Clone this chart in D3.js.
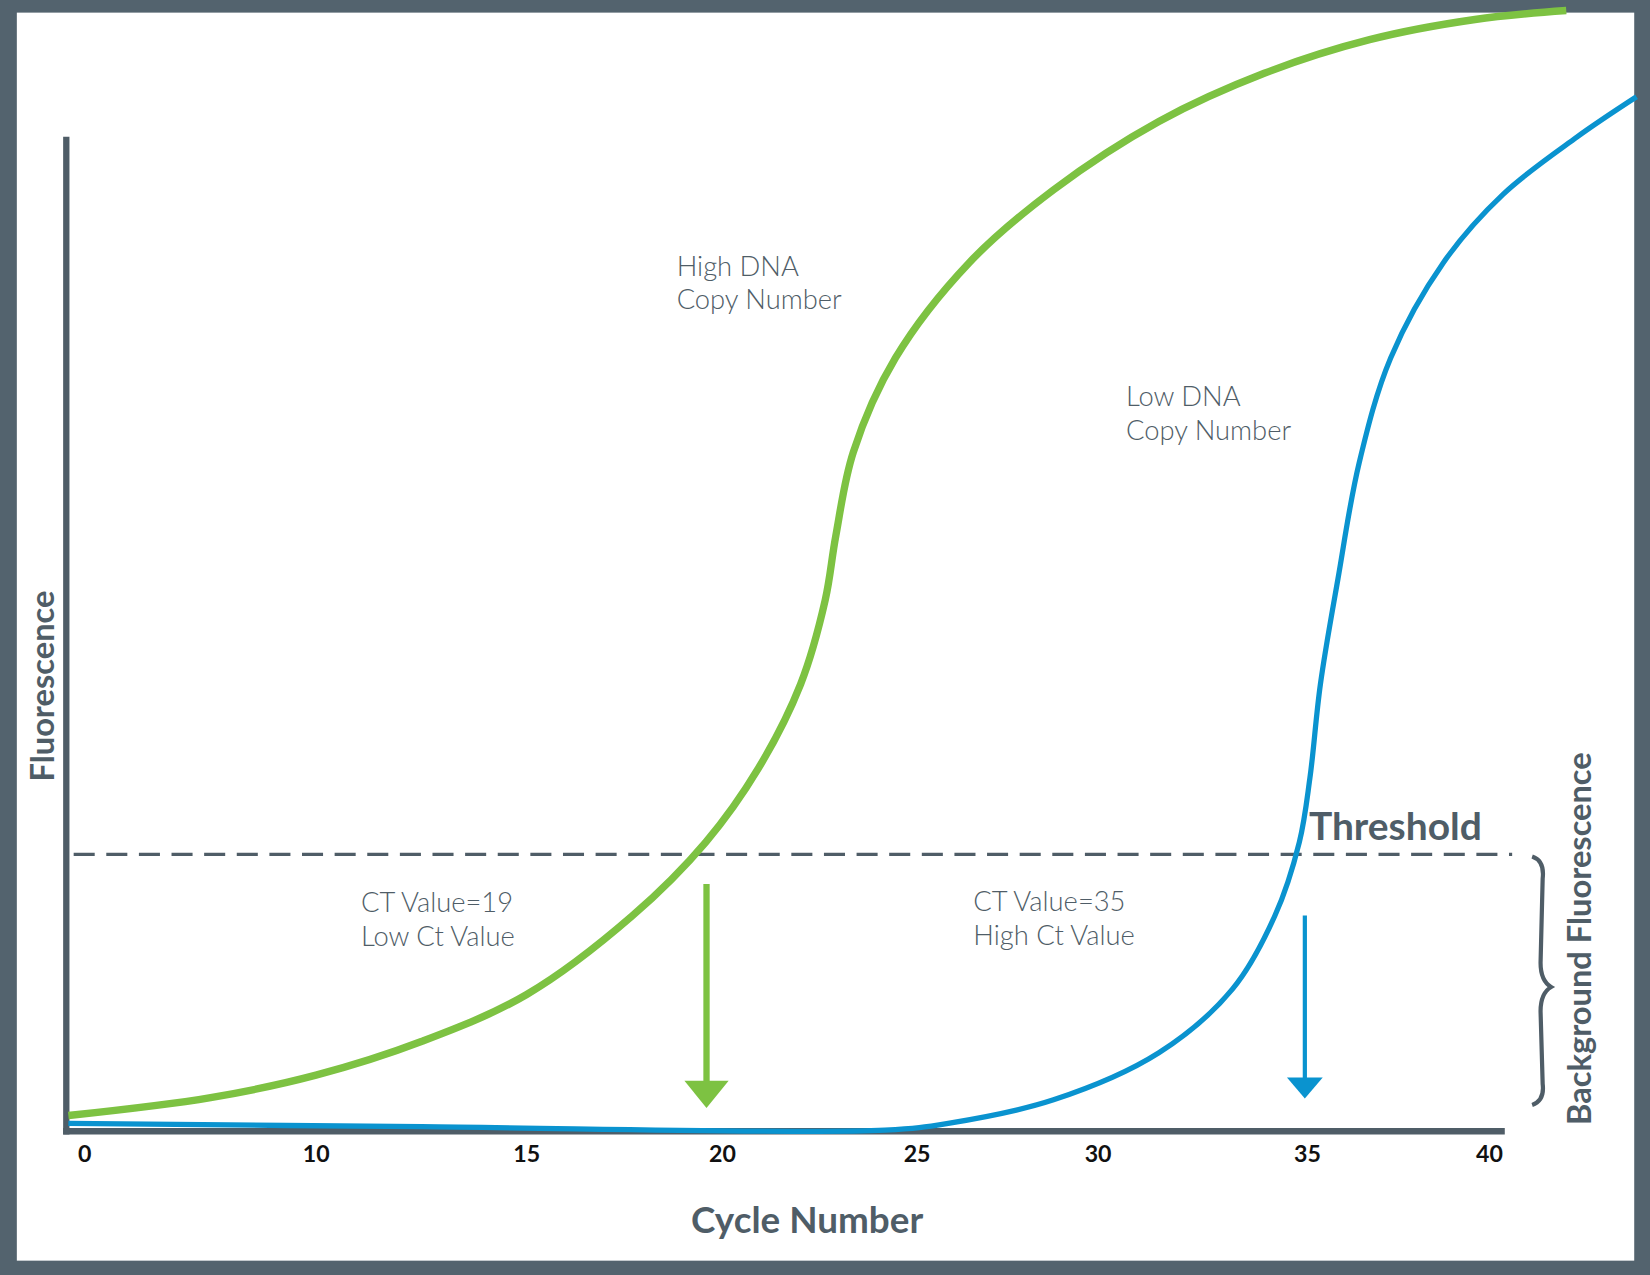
<!DOCTYPE html>
<html><head><meta charset="utf-8">
<script src="https://cdn.jsdelivr.net/npm/d3@7"></script>
<style>body{margin:0;background:#53636e}svg{display:block}</style>
</head><body>
<script>
// Data (cycle number, fluorescence in arbitrary units 0-100)
const tickLabels = [0, 10, 15, 20, 25, 30, 35, 40];
const tickPositions = [80, 300, 500, 686, 871, 1043, 1242, 1415]; // irregular label spacing in original
const highCycles = [-0.45, 3.6, 6.6, 9.6, 12.6, 15.6, 17.7, 19.2, 20.4, 21.1, 21.4, 21.9, 23.1, 25.2, 27.6, 30.6, 33.6, 36.6, 39.6, 42.2];
const highFluor  = [1.4, 3.0, 5.0, 8.0, 12.2, 19.2, 25.8, 32.4, 39.9, 47.4, 53.1, 60.6, 69.0, 77.5, 84.0, 90.1, 94.4, 97.4, 99.2, 100];
const lowCycles = [-0.45, 9.6, 22.8, 24.6, 27.6, 30.6, 32.7, 33.9, 34.6, 34.9, 35.2, 35.7, 36.3, 37.2, 38.7, 40.4, 42.5, 44.2];
const lowFluor  = [0.7, 0.4, 0.1, 0.7, 2.8, 7.0, 12.7, 19.2, 25.8, 31.5, 39.9, 49.3, 59.6, 69.0, 77.5, 83.6, 88.7, 92.3];
const threshold = 24.7;
const ctValues = [19.5, 35];

const W = 1650, H = 1275, k = 1650 / 1568;
const gray = "#4f5d67", green = "#7dc242", blue = "#0a93cf";
const svg = d3.select("body").append("svg").attr("width", W).attr("height", H);
svg.append("rect").attr("width", W).attr("height", H).attr("fill", "#53636e");
const g = svg.append("g").attr("transform", `scale(${k})`);
g.append("rect").attr("x", 16).attr("y", 12).attr("width", 1537).attr("height", 1186).attr("fill", "#fff");

const xTick = d3.scaleLinear().domain(tickLabels).range(tickPositions);
const x = d3.scaleLinear().domain([0, 40]).range([80, 1415]);
const y = d3.scaleLinear().domain([0, 100]).range([1075, 10]);

const font = "Lato, 'Open Sans', sans-serif";
const xAxis = d3.axisBottom(xTick).tickValues(tickLabels).tickSize(0).tickPadding(14);
const ax = g.append("g").attr("transform", "translate(0,1075)").call(xAxis);
ax.select(".domain").remove();
ax.selectAll("text").attr("font-family", font).attr("font-weight", "bold").attr("font-size", 22).attr("fill", "#111");
g.append("line").attr("x1", 60).attr("x2", 1430).attr("y1", 1075).attr("y2", 1075).attr("stroke", gray).attr("stroke-width", 6);
g.append("line").attr("x1", 63).attr("x2", 63).attr("y1", 130).attr("y2", 1078).attr("stroke", gray).attr("stroke-width", 6);

g.append("line").attr("x1", 70).attr("x2", 1437).attr("y1", y(threshold)).attr("y2", y(threshold))
  .attr("stroke", gray).attr("stroke-width", 3).attr("stroke-dasharray", "20,11");

const line = d3.line().x(d => x(d[0])).y(d => y(d[1])).curve(d3.curveCatmullRom.alpha(0.5));
g.append("path").datum(lowCycles.map((c, i) => [c, lowFluor[i]])).attr("d", line)
  .attr("fill", "none").attr("stroke", blue).attr("stroke-width", 5);
g.append("path").datum(highCycles.map((c, i) => [c, highFluor[i]])).attr("d", line)
  .attr("fill", "none").attr("stroke", green).attr("stroke-width", 7);

function arrow(cx, y0, y1, hw, hh, col, sw) {
  g.append("line").attr("x1", cx).attr("x2", cx).attr("y1", y0).attr("y2", y1 - hh + 2).attr("stroke", col).attr("stroke-width", sw);
  g.append("path").attr("d", `M${cx - hw},${y1 - hh}L${cx + hw},${y1 - hh}L${cx},${y1}Z`).attr("fill", col);
}
arrow(xTick(ctValues[0]) + 4, 840, 1053, 21, 26, green, 6);
arrow(xTick(ctValues[1]) - 2, 870, 1044, 17, 20, blue, 4);

g.append("path").attr("d", "M1456,814 Q1468,818 1466,835 L1464,915 Q1464,932 1474,938 Q1464,944 1464,961 L1466,1030 Q1468,1046 1456,1050")
  .attr("fill", "none").attr("stroke", gray).attr("stroke-width", 4);

function txt(xx, yy, s, size, weight, anchor, rot) {
  const t = g.append("text").attr("x", xx).attr("y", yy).text(s).attr("font-family", font)
    .attr("font-size", size).attr("font-weight", weight).attr("fill", gray).attr("text-anchor", anchor || "start");
  if (rot) t.attr("transform", `rotate(${rot},${xx},${yy})`);
  return t;
}
txt(643, 262, "High DNA", 26, 300); txt(643, 294, "Copy Number", 26, 300);
txt(1070, 386, "Low DNA", 26, 300); txt(1070, 418, "Copy Number", 26, 300);
txt(343, 867, "CT Value=19", 26, 300); txt(343, 899, "Low Ct Value", 26, 300);
txt(925, 866, "CT Value=35", 26, 300); txt(925, 898, "High Ct Value", 26, 300);
txt(1326, 798, "Threshold", 37, "bold", "middle");
txt(767, 1172, "Cycle Number", 35, "bold", "middle");
txt(51, 652, "Fluorescence", 31, "bold", "middle", -90);
txt(1512, 892, "Background Fluorescence", 31, "bold", "middle", -90);
</script>
</body></html>
